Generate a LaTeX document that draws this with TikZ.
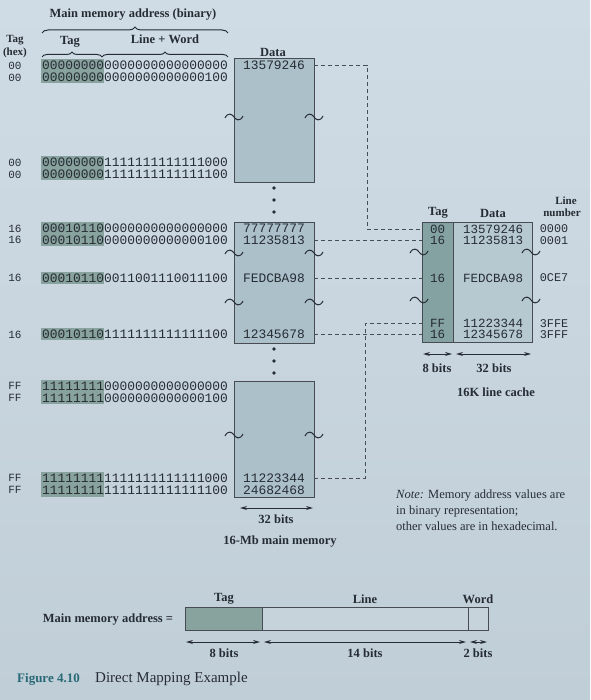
\documentclass[tikz,border=0pt]{standalone}
\usepackage{fontspec}
\setmainfont{Liberation Serif}
\setmonofont{Liberation Mono}
\usetikzlibrary{arrows.meta,decorations.pathreplacing,shadings}
\definecolor{papertop}{RGB}{208,220,229}
\definecolor{paperbot}{RGB}{192,206,216}
\definecolor{ink}{RGB}{38,44,52}
\definecolor{memfill}{RGB}{172,192,202}
\definecolor{tagfill}{RGB}{132,162,162}
\definecolor{binshade}{RGB}{136,162,158}
\definecolor{cachefill}{RGB}{182,200,208}
\definecolor{linefill}{RGB}{198,211,219}
\definecolor{capteal}{RGB}{40,105,118}
\definecolor{dashcol}{RGB}{70,78,88}
\newcommand\squig[2]{\draw[squigline] ({#1-9},{#2+1}) .. controls ({#1-6},{#2-5}) and ({#1-2},{#2-3}) .. ({#1},{#2}) .. controls ({#1+2},{#2+3}) and ({#1+6},{#2+5}) .. ({#1+9},{#2-1});}
\begin{document}
\begin{tikzpicture}[x=1pt,y=-1pt,
  bin/.style={font=\fontsize{12.9}{13}\selectfont\ttfamily, anchor=west, inner sep=0pt, text=ink},
  hexl/.style={font=\fontsize{11}{11}\selectfont\ttfamily, inner sep=0pt, text=ink},
  val/.style={font=\fontsize{12.9}{13}\selectfont\ttfamily, inner sep=0pt, minimum width=80pt, text=ink},
  ctag/.style={font=\fontsize{12.5}{13}\selectfont\ttfamily, inner sep=0pt, minimum width=31pt, text=ink},
  cdat/.style={font=\fontsize{12.5}{13}\selectfont\ttfamily, inner sep=0pt, text=ink},
  lnum/.style={font=\fontsize{11.8}{12}\selectfont\ttfamily, inner sep=0pt, text=ink},
  lbl/.style={font=\fontsize{12.5}{14}\selectfont\bfseries, inner sep=0pt, text=ink},
  slbl/.style={font=\fontsize{11}{12}\selectfont\bfseries, inner sep=0pt, text=ink},
  notetext/.style={font=\fontsize{12.5}{16}\selectfont, align=left, anchor=north west, inner sep=0pt, text=ink},
  conn/.style={draw=dashcol, dash pattern=on 4pt off 3pt, line width=0.8pt},
  boxline/.style={draw=ink!85, line width=0.9pt},
  dimarrow/.style={{Stealth[length=7pt,width=4pt]}-{Stealth[length=7pt,width=4pt]}, line width=1pt, draw=ink},
  squigline/.style={draw=ink, line width=1pt},
  bracestyle/.style={draw=ink, line width=1pt, decorate}
]
\fill[top color=papertop, bottom color=paperbot] (0,0) rectangle (590,700);
\useasboundingbox (0,0) rectangle (590,700);

% ---------- headings ----------
\node[lbl] (mmab) at (133,15) {Main memory address (binary)};
\draw[bracestyle, decoration={brace, amplitude=6pt}] (42,33) -- (228,33);
\node[lbl] (tagh) at (70,42) {Tag};
\node[lbl] (lwh) at (165,39) {Line + Word};
\draw[bracestyle, decoration={brace, amplitude=5pt}] (42,57) -- (102,57);
\draw[bracestyle, decoration={brace, amplitude=5pt}] (102,57) -- (228,57);
\node[slbl] (taghex1) at (15,40) {Tag};
\node[slbl] (taghex2) at (15,53) {(hex)};
\node[lbl] (datah) at (273,52) {Data};

% ---------- tag shading of binary addresses ----------
\fill[binshade] (41,59) rectangle (104,83);
\fill[binshade] (41,156) rectangle (104,180);
\fill[binshade] (41,222) rectangle (104,246);
\fill[binshade] (41,272) rectangle (104,284);
\fill[binshade] (41,328) rectangle (104,340);
\fill[binshade] (41,380) rectangle (104,404);
\fill[binshade] (41,472) rectangle (104,497);

% ---------- memory blocks ----------
\draw[boxline, fill=memfill] (234,58) rectangle (314,182);
\draw[boxline, fill=memfill] (234,222) rectangle (314,343);
\draw[boxline, fill=memfill] (234,381) rectangle (314,497);

% block 1
\node[hexl] (h1) at (15,66) {00};
\node[hexl] (h2) at (15,78) {00};
\node[bin] (b1) at (42,65) {000000000000000000000000};
\node[bin] (b2) at (42,77) {000000000000000000000100};
\node[val] (d1) at (274,65) {13579246};
\squig{234}{117}
\squig{314}{117}
\node[hexl] (h3) at (15,163) {00};
\node[hexl] (h4) at (15,175) {00};
\node[bin] (b3) at (42,162) {000000001111111111111000};
\node[bin] (b4) at (42,174) {000000001111111111111100};

\fill[ink] (274,188) circle (1.8) (274,200) circle (1.8) (274,212) circle (1.8);

% block 2
\node[hexl] (h5) at (15,229) {16};
\node[hexl] (h6) at (15,240) {16};
\node[bin] (b5) at (42,228) {000101100000000000000000};
\node[bin] (b6) at (42,240.5) {000101100000000000000100};
\node[val] (d2) at (274,228) {77777777};
\node[val] (d3) at (274,240.5) {11235813};
\squig{234}{253}
\squig{314}{253}
\node[hexl] (h7) at (15,278) {16};
\node[bin] (b7) at (42,278) {000101100011001110011100};
\node[val] (d4) at (274,278) {FEDCBA98};
\squig{234}{302}
\squig{314}{302}
\node[hexl] (h8) at (15,334.5) {16};
\node[bin] (b8) at (42,334.5) {000101101111111111111100};
\node[val] (d5) at (274,334.5) {12345678};

\fill[ink] (274,349) circle (1.8) (274,361) circle (1.8) (274,373) circle (1.8);

% block 3
\node[hexl] (h9) at (15,386) {FF};
\node[hexl] (h10) at (15,398) {FF};
\node[bin] (b9) at (42,386) {111111110000000000000000};
\node[bin] (b10) at (42,398) {111111110000000000000100};
\squig{234}{435}
\squig{314}{435}
\node[hexl] (h11) at (15,478) {FF};
\node[hexl] (h12) at (15,490) {FF};
\node[bin] (b11) at (42,478) {111111111111111111111000};
\node[bin] (b12) at (42,490) {111111111111111111111100};
\node[val] (d6) at (274,478) {11223344};
\node[val] (d7) at (274,490) {24682468};

\draw[dimarrow] (240,508) -- (313,508);
\node[lbl] (m32) at (276,519) {32 bits};
\node[lbl] (mmcap) at (280,542) {16-Mb main memory};

% ---------- cache ----------
\node[lbl] (ctagh) at (438,213) {Tag};
\node[lbl] (cdatah) at (493,213) {Data};
\node[slbl] (lnh1) at (566,201) {Line};
\node[slbl] (lnh2) at (562,213) {number};
\fill[cachefill] (422,222) rectangle (532,342);
\fill[tagfill] (422,222) rectangle (453,342);
\draw[boxline] (422,222) rectangle (532,342);
\draw[boxline] (453,222) -- (453,342);

\node[ctag] (ct1) at (437.5,229) {00};
\node[ctag] (ct2) at (437.5,240.5) {16};
\node[ctag] (ct3) at (437.5,278) {16};
\node[ctag] (ct4) at (437.5,323.5) {FF};
\node[ctag] (ct5) at (437.5,334.5) {16};
\node[cdat] (cd1) at (493,229) {13579246};
\node[cdat] (cd2) at (493,240.5) {11235813};
\node[cdat] (cd3) at (493,278) {FEDCBA98};
\node[cdat] (cd4) at (493,323.5) {11223344};
\node[cdat] (cd5) at (493,334.5) {12345678};
\node[lnum] (ln1) at (554,229) {0000};
\node[lnum] (ln2) at (554,240.5) {0001};
\node[lnum] (ln3) at (554,278) {0CE7};
\node[lnum] (ln4) at (554,323.5) {3FFE};
\node[lnum] (ln5) at (554,334.5) {3FFF};
\squig{419}{252}
\squig{531}{252}
\squig{419}{300}
\squig{531}{300}

\draw[dimarrow] (423,354) -- (452,354);
\draw[dimarrow] (456,354) -- (531,354);
\node[lbl] (c8) at (437,368) {8 bits};
\node[lbl] (c32) at (494,368) {32 bits};
\node[lbl] (ccap) at (496,392) {16K line cache};

% ---------- connectors ----------
\coordinate (j1) at (367,65);
\coordinate (j2) at (365,478);
\draw[conn] (d1.east) -- (j1) |- (ct1.west);
\draw[conn] (d3.east) -- (ct2.west);
\draw[conn] (d4.east) -- (ct3.west);
\draw[conn] (d5.east) -- (ct5.west);
\draw[conn] (d6.east) -- (j2) |- (ct4.west);

% ---------- note ----------
\node[notetext] (note) at (396,490) {\textit{Note:} Memory address values are\\in binary representation;\\other values are in hexadecimal.};

% ---------- address format ----------
\node[lbl] (mma) at (108,620) {Main memory address =};
\node[draw=ink!85, line width=0.9pt, fill=binshade, minimum width=77pt, minimum height=23pt, inner sep=0pt] (atag) at (223.5,618.5) {};
\node[draw=ink!85, line width=0.9pt, fill=linefill, minimum width=206pt, minimum height=23pt, inner sep=0pt] (aline) at (365,618.5) {};
\node[draw=ink!85, line width=0.9pt, fill=linefill, minimum width=20pt, minimum height=23pt, inner sep=0pt] (aword) at (478,618.5) {};
\node[lbl] (ftag) at (224,599) {Tag};
\node[lbl] (fline) at (365,599) {Line};
\node[lbl] (fword) at (478,599) {Word};
\draw[dimarrow] (186,642) -- (260,642);
\draw[dimarrow] (264,642) -- (466,642);
\draw[dimarrow] (470,642) -- (487,642);
\node[lbl] (f8) at (224,653) {8 bits};
\node[lbl] (f14) at (365,653) {14 bits};
\node[lbl] (f2) at (478,653) {2 bits};

% ---------- caption ----------
\node[anchor=base west, inner sep=0pt, text=capteal, font=\fontsize{13}{14}\selectfont\bfseries] (fig) at (17,682) {Figure 4.10};
\node[anchor=base west, inner sep=0pt, text=ink, font=\fontsize{15}{16}\selectfont] (cap) at (95,682) {Direct Mapping Example};
\end{tikzpicture}
\end{document}
